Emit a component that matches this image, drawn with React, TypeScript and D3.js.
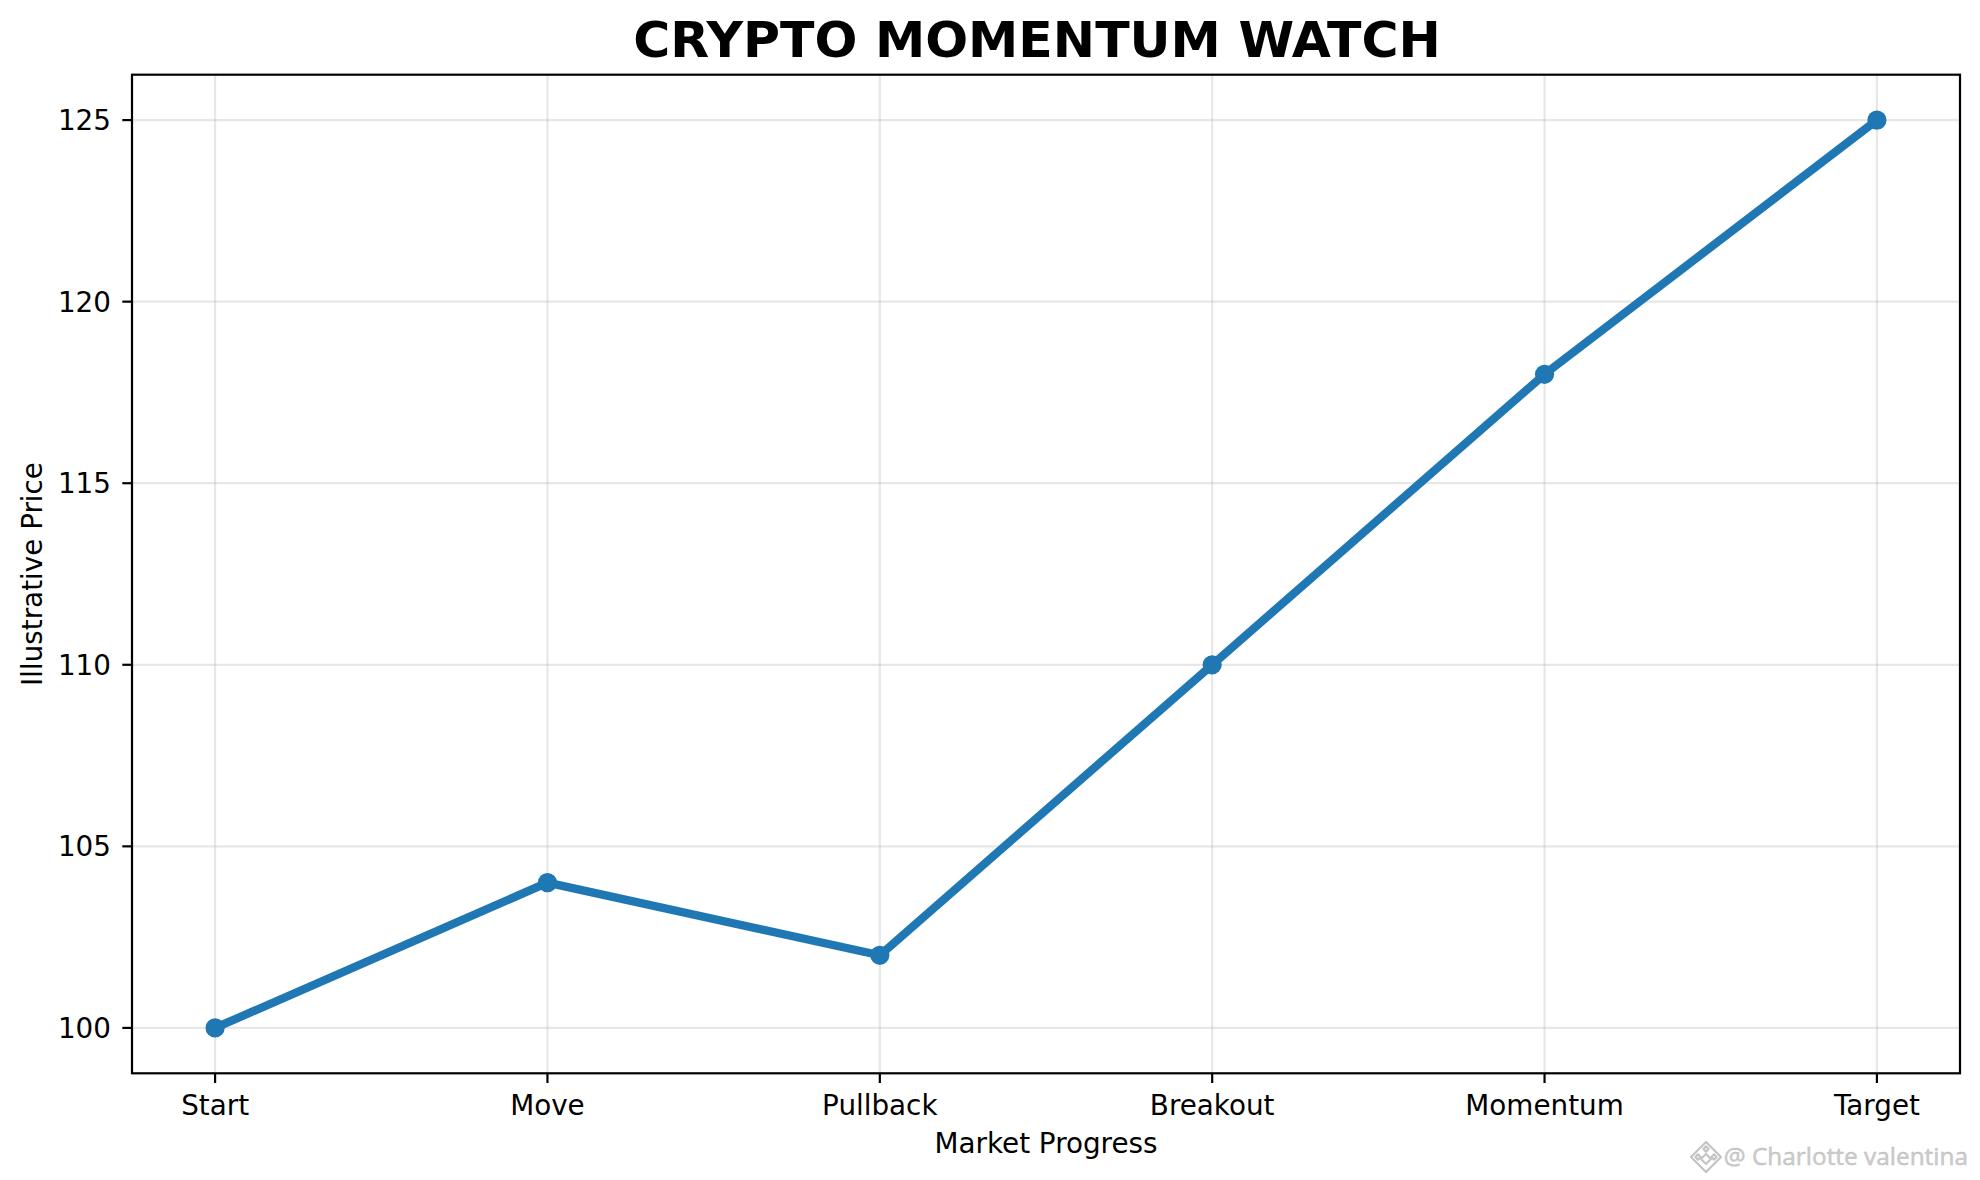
import React, { useRef, useEffect } from 'react';
import * as d3 from 'd3';

const stages = ['Start', 'Move', 'Pullback', 'Breakout', 'Momentum', 'Target'];
const prices = [100, 104, 102, 110, 118, 125];
const yTicks = [100, 105, 110, 115, 120, 125];

const WIDTH = 1980;
const HEIGHT = 1180;

const App: React.FC = () => {
    const svgRef = useRef<SVGSVGElement>(null);

    useEffect(() => {
        if (!svgRef.current) return;
        const svg = d3.select(svgRef.current);
        svg.selectAll('*').remove();

        const plot = { left: 132, right: 1960, top: 74.7, bottom: 1073.3 };
        const font = 'DejaVu Sans, sans-serif';
        const fs = 27.8;

        // matplotlib-style 5% margins
        const n = stages.length - 1;
        const xScale = d3.scaleLinear()
            .domain([-0.05 * n, n + 0.05 * n])
            .range([plot.left, plot.right]);

        const yMin = d3.min(prices) as number;
        const yMax = d3.max(prices) as number;
        const pad = (yMax - yMin) * 0.05;
        const yScale = d3.scaleLinear()
            .domain([yMin - pad, yMax + pad])
            .range([plot.bottom, plot.top]);

        svg.append('rect')
            .attr('width', WIDTH).attr('height', HEIGHT).attr('fill', '#ffffff');

        // Grid lines
        const grid = svg.append('g')
            .attr('stroke', '#b0b0b0')
            .attr('stroke-opacity', 0.3)
            .attr('stroke-width', 2.2);

        grid.selectAll('line.gx')
            .data(stages)
            .join('line')
            .attr('class', 'gx')
            .attr('x1', (_, i) => xScale(i)).attr('x2', (_, i) => xScale(i))
            .attr('y1', plot.top).attr('y2', plot.bottom);

        grid.selectAll('line.gy')
            .data(yTicks)
            .join('line')
            .attr('class', 'gy')
            .attr('x1', plot.left).attr('x2', plot.right)
            .attr('y1', d => yScale(d)).attr('y2', d => yScale(d));

        // Price line
        const line = d3.line<number>()
            .x((_, i) => xScale(i))
            .y(d => yScale(d));

        svg.append('path')
            .datum(prices)
            .attr('fill', 'none')
            .attr('stroke', '#1f77b4')
            .attr('stroke-width', 8.3)
            .attr('stroke-linejoin', 'round')
            .attr('stroke-linecap', 'butt')
            .attr('d', line);

        svg.append('g')
            .selectAll('circle')
            .data(prices)
            .join('circle')
            .attr('cx', (_, i) => xScale(i))
            .attr('cy', d => yScale(d))
            .attr('r', 9.6)
            .attr('fill', '#1f77b4');

        // Spines
        svg.append('rect')
            .attr('x', plot.left).attr('y', plot.top)
            .attr('width', plot.right - plot.left)
            .attr('height', plot.bottom - plot.top)
            .attr('fill', 'none')
            .attr('stroke', '#000')
            .attr('stroke-width', 2.2);

        // X ticks
        const xt = svg.append('g').attr('font-family', font).attr('font-size', fs);
        stages.forEach((s, i) => {
            const x = xScale(i);
            xt.append('line')
                .attr('x1', x).attr('x2', x)
                .attr('y1', plot.bottom).attr('y2', plot.bottom + 9.7)
                .attr('stroke', '#000').attr('stroke-width', 2.2);
            xt.append('text')
                .attr('x', x).attr('y', 1115)
                .attr('text-anchor', 'middle')
                .attr('fill', '#000')
                .text(s);
        });

        // Y ticks
        const yt = svg.append('g').attr('font-family', font).attr('font-size', fs);
        yTicks.forEach(v => {
            const y = yScale(v);
            yt.append('line')
                .attr('x1', plot.left - 9.7).attr('x2', plot.left)
                .attr('y1', y).attr('y2', y)
                .attr('stroke', '#000').attr('stroke-width', 2.2);
            yt.append('text')
                .attr('x', 111).attr('y', y + 10.1)
                .attr('text-anchor', 'end')
                .attr('fill', '#000')
                .text(v);
        });

        // Axis labels
        svg.append('text')
            .attr('x', (plot.left + plot.right) / 2).attr('y', 1153.3)
            .attr('text-anchor', 'middle')
            .attr('font-family', font).attr('font-size', fs)
            .text('Market Progress');

        svg.append('text')
            .attr('transform', `translate(41.7,${(plot.top + plot.bottom) / 2}) rotate(-90)`)
            .attr('text-anchor', 'middle')
            .attr('font-family', font).attr('font-size', fs)
            .text('Illustrative Price');

        // Title
        svg.append('text')
            .attr('x', 1037).attr('y', 56.7)
            .attr('text-anchor', 'middle')
            .attr('font-family', font).attr('font-size', 50.5)
            .attr('font-weight', 'bold')
            .text('CRYPTO MOMENTUM WATCH');

        // Watermark
        const wm = svg.append('g')
            .attr('fill', 'none')
            .attr('stroke', '#c4c4c4')
            .attr('stroke-width', 2.2)
            .attr('stroke-linejoin', 'round');
        const cx = 1706, cy = 1157;
        const diamond = (x: number, y: number, r: number) =>
            `M${x},${y - r}L${x + r},${y}L${x},${y + r}L${x - r},${y}Z`;
        wm.append('path').attr('d', diamond(cx, cy, 15));
        wm.append('path').attr('d', diamond(cx, cy + 2, 5));
        wm.append('path').attr('d', diamond(cx - 8, cy, 2.6));
        wm.append('path').attr('d', diamond(cx + 8, cy, 2.6));
        wm.append('path').attr('d', diamond(cx, cy - 8, 2.6));

        svg.append('text')
            .attr('x', 1968).attr('y', 1165)
            .attr('text-anchor', 'end')
            .attr('font-family', 'Open Sans, sans-serif')
            .attr('font-size', 24.4)
            .attr('fill', '#cdcdcd')
            .attr('stroke', '#b8b8b8')
            .attr('stroke-width', 0.4)
            .text('@ Charlotte valentina');
    }, []);

    return (
        <div style={{ position: 'fixed', top: 0, left: 0, width: WIDTH, height: HEIGHT, background: '#fff' }}>
            <svg ref={svgRef} width={WIDTH} height={HEIGHT} viewBox={`0 0 ${WIDTH} ${HEIGHT}`} />
        </div>
    );
};

export default App;
